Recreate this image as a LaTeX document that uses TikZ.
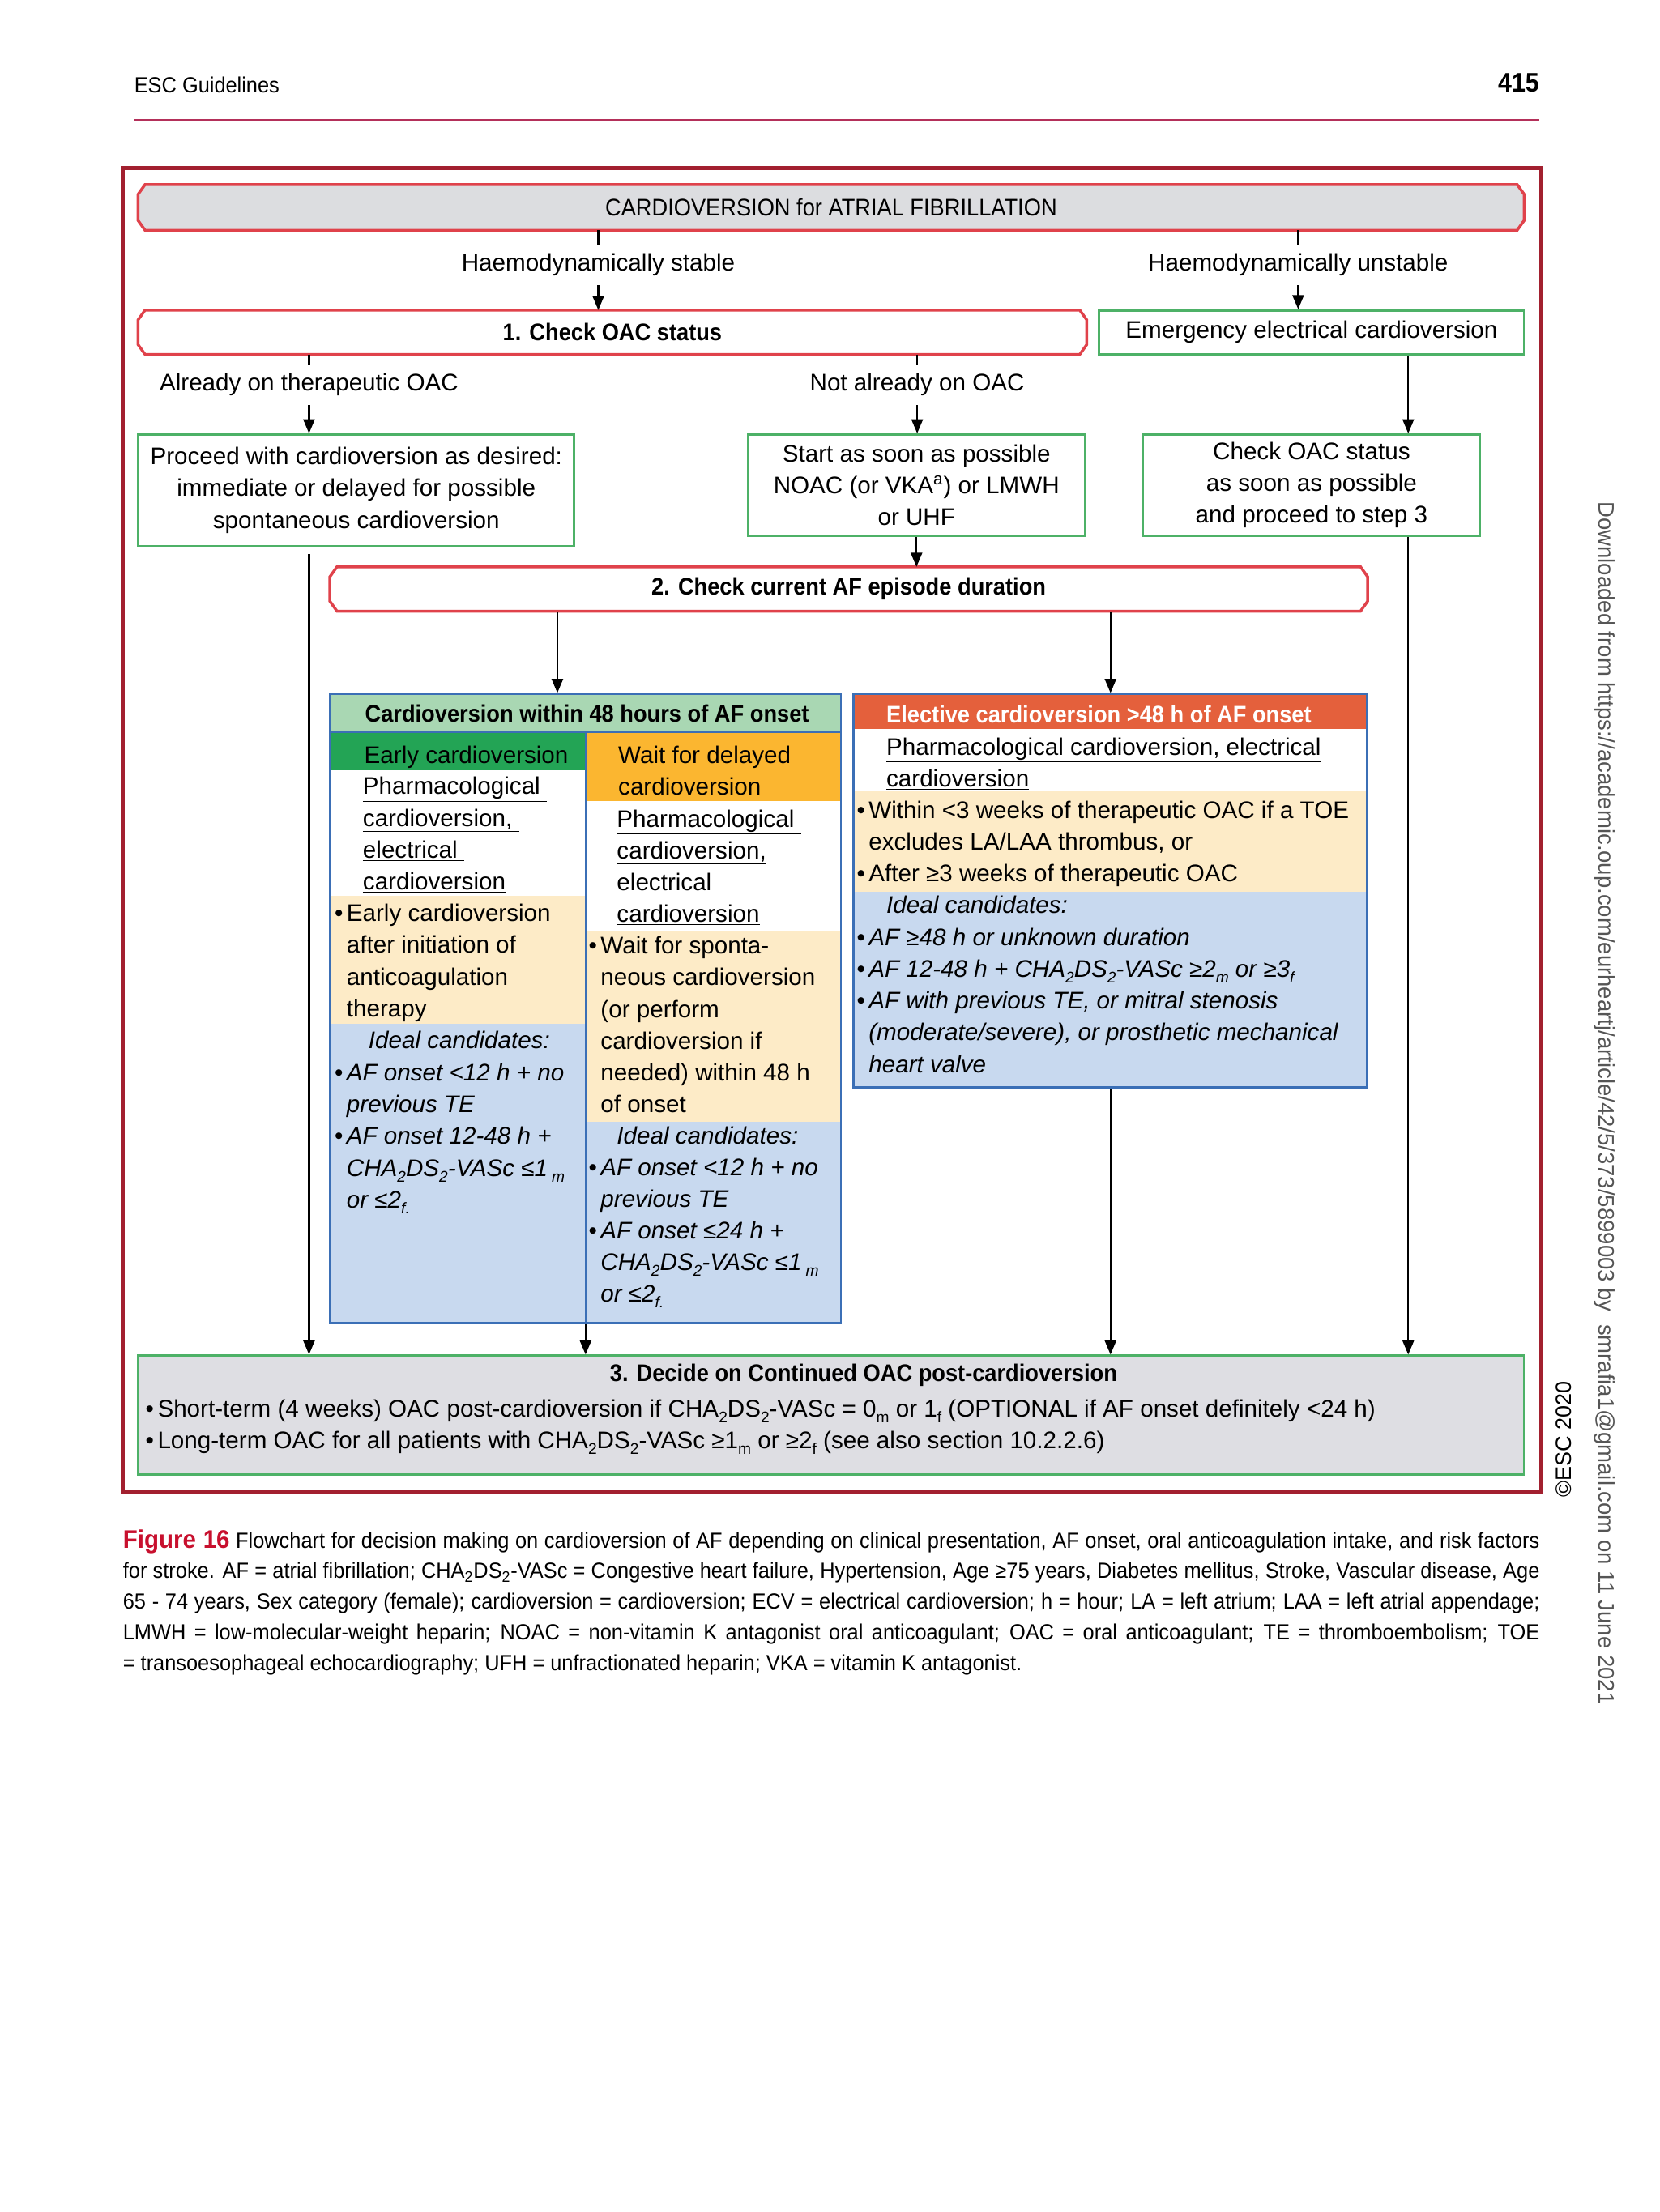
\documentclass[tikz,border=0pt]{standalone}
\usepackage{fontspec}
\setmainfont{Liberation Sans}
\newfontfamily\capfont{Liberation Sans}[FakeStretch=0.94]
\newfontfamily\narfont{Liberation Sans}[FakeStretch=0.92]
\usetikzlibrary{arrows.meta,calc}
\definecolor{frameRed}{HTML}{A2202F}
\definecolor{headRule}{HTML}{B4305A}
\definecolor{titleFill}{HTML}{DCDDE0}
\definecolor{boxRed}{HTML}{E0424B}
\definecolor{boxGreen}{HTML}{4DB167}
\definecolor{panelBlue}{HTML}{3B6FB6}
\definecolor{hdrGreen}{HTML}{A9D7B3}
\definecolor{earlyGreen}{HTML}{23A455}
\definecolor{waitOrange}{HTML}{FBB630}
\definecolor{lightOrange}{HTML}{FDEBC7}
\definecolor{lightBlue}{HTML}{C8D9EF}
\definecolor{electiveRed}{HTML}{E4603C}
\definecolor{boxThreeFill}{HTML}{DEDEE3}
\definecolor{capRed}{HTML}{C8102E}
\definecolor{sideGray}{HTML}{555555}
\pgfdeclarelayer{bg}
\pgfsetlayers{bg,main}
\newcommand\myfst{\rule{0pt}{16pt}}
\newcommand\mybul{\makebox[8.5pt][l]{\upshape •}}
\newcommand\myind{\hspace*{8.5pt}}
\newcommand\mysub[1]{\raisebox{-4pt}{\fontsize{11}{11}\selectfont #1}}
\newcommand\mycha{CHA\mysub{2}DS\mysub{2}-VASc}
\newcommand\chbox[2]{%
 \begin{pgfonlayer}{bg}
 \path[#2] ($(#1.north west)+(5,0)$) -- ($(#1.north east)+(-5,0)$) -- ($(#1.north east)+(0,7)$) -- ($(#1.south east)+(0,-7)$) -- ($(#1.south east)+(-5,0)$) -- ($(#1.south west)+(5,0)$) -- ($(#1.south west)+(0,-7)$) -- ($(#1.north west)+(0,7)$) -- cycle;
 \end{pgfonlayer}}
\tikzset{
 ln/.style={line width=1.4pt, black},
 arr/.style={ln, -{Triangle[length=10pt,width=8pt]}},
 lab/.style={font=\fontsize{17}{22.5}\selectfont, text height=12pt, text depth=4pt, inner xsep=2pt, inner ysep=6pt},
 bx/.style={inner sep=0pt, font=\fontsize{17}{22.5}\selectfont, align=center},
 bbx/.style={bx, font=\narfont\fontsize{17}{22.5}\selectfont\bfseries},
 gbox/.style={bx, draw=boxGreen, line width=1.6pt},
 blk/.style={anchor=north west, inner sep=0pt, align=left, font=\fontsize{17}{22.5}\selectfont},
 iblk/.style={blk, font=\fontsize{17}{22.5}\selectfont\itshape},
 bblk/.style={blk, font=\narfont\fontsize{17}{22.5}\selectfont\bfseries},
}
\begin{document}
\begin{tikzpicture}[x=1pt,y=-1pt]
\begin{pgfonlayer}{bg}
\fill[white] (0,0) rectangle (1176,1568);
\end{pgfonlayer}
\useasboundingbox (0,0) rectangle (1176,1568);

% page header
\node[anchor=base west, inner sep=0, font=\capfont\fontsize{15.5}{18}\selectfont] (hdrL) at (95,66) {ESC Guidelines};
\node[anchor=base east, inner sep=0, font=\narfont\fontsize{19}{22}\selectfont\bfseries] (hdrR) at (1091,65) {415};
\draw[headRule, line width=1.6pt] (95,85) -- (1091,85);

% frame
\node[draw=frameRed, line width=2.6pt, minimum width=1005pt, minimum height=939pt, inner sep=0] (frame) at (589.5,588.5) {};

% top level
\node[bx, font=\narfont\fontsize{17}{22.5}\selectfont, minimum width=982pt, minimum height=32pt] (T) at (589,147) {CARDIOVERSION for ATRIAL FIBRILLATION};
\chbox{T}{fill=titleFill, draw=boxRed, line width=2pt}
\node[lab] (S) at (424,188) {Haemodynamically stable};
\node[lab] (U) at (920,188) {Haemodynamically unstable};

\node[bbx, minimum width=672pt, minimum height=31pt] (B1) at (434,235.5) {1. Check OAC status};
\chbox{B1}{fill=white, draw=boxRed, line width=2pt}
\node[gbox, minimum width=301pt, minimum height=31pt] (E) at (929.5,235.5) {Emergency electrical cardioversion};

\node[lab] (A) at (219,273) {Already on therapeutic OAC};
\node[lab] (N) at (650,273) {Not already on OAC};

\node[gbox, minimum width=309pt, minimum height=79pt] (P) at (252.5,347.5) {Proceed with cardioversion as desired:\\immediate or delayed for possible\\spontaneous cardioversion};
\node[gbox, minimum width=239pt, minimum height=72pt] (St) at (649.5,344) {Start as soon as possible\\NOAC (or VKA\textsuperscript{a}) or LMWH\\or UHF};
\node[gbox, minimum width=239pt, minimum height=72pt] (C) at (929.5,344) {Check OAC status\\as soon as possible\\and proceed to step 3};

\node[bbx, minimum width=735pt, minimum height=31pt] (B2) at (601.5,417.5) {2. Check current AF episode duration};
\chbox{B2}{fill=white, draw=boxRed, line width=2pt}

% panel fills
\fill[hdrGreen] (234,492) rectangle (596,519);
\fill[earlyGreen] (234,519) rectangle (415,546);
\fill[lightOrange] (234,635) rectangle (415,726);
\fill[lightBlue] (234,726) rectangle (415,938);
\fill[waitOrange] (415,519) rectangle (596,568);
\fill[lightOrange] (415,660) rectangle (596,795);
\fill[lightBlue] (415,795) rectangle (596,938);
\fill[electiveRed] (605,492) rectangle (969,517);
\fill[lightOrange] (605,561) rectangle (969,632);
\fill[lightBlue] (605,632) rectangle (969,771);

\node[draw=panelBlue, line width=1.6pt, minimum width=362pt, minimum height=446pt, inner sep=0] (LP) at (415,715) {};
\node[draw=panelBlue, line width=1.6pt, minimum width=364pt, minimum height=279pt, inner sep=0] (RP) at (787,631.5) {};
\draw[panelBlue, line width=1.4pt] (234,519) -- (596,519);
\draw[panelBlue, line width=1.4pt] (415,519) -- (415,938);

% left panel texts
\node[bbx] (LPh) at (416,506) {Cardioversion within 48 hours of AF onset};
\node[blk] (l1) at (258,525) {\myfst Early cardioversion};
\node[blk] (l2) at (257,547) {\myfst\underline{Pharmacological~}\\\underline{cardioversion,~}\\\underline{electrical~}\\\underline{cardioversion}};
\node[blk] (l3) at (237,637) {\myfst\mybul Early cardioversion\\\myind after initiation of\\\myind anticoagulation\\\myind therapy};
\node[iblk] (l4) at (261,727) {\myfst Ideal candidates:};
\node[iblk] (l5) at (237,750) {\myfst\mybul AF onset <12 h + no\\\myind previous TE\\\mybul AF onset 12-48 h +\\\myind \mycha\ ≤1\,\mysub{m}\\\myind or ≤2\mysub{f.}};

\node[blk] (r1) at (438,525) {\myfst Wait for delayed\\cardioversion};
\node[blk] (r2) at (437,570) {\myfst\underline{Pharmacological~}\\\underline{cardioversion,}\\\underline{electrical~}\\\underline{cardioversion}};
\node[blk] (r3) at (417,660) {\myfst\mybul Wait for sponta-\\\myind neous cardioversion\\\myind (or perform\\\myind cardioversion if\\\myind needed) within 48 h\\\myind of onset};
\node[iblk] (r4) at (437,795) {\myfst Ideal candidates:};
\node[iblk] (r5) at (417,817) {\myfst\mybul AF onset <12 h + no\\\myind previous TE\\\mybul AF onset ≤24 h +\\\myind \mycha\ ≤1\,\mysub{m}\\\myind or ≤2\mysub{f.}};

% right panel texts
\node[bblk, text=white] (e1) at (628,496) {\myfst Elective cardioversion >48 h of AF onset};
\node[blk] (e2) at (628,519) {\myfst\underline{Pharmacological cardioversion, electrical}\\\underline{cardioversion}};
\node[blk] (e3) at (607,564) {\myfst\mybul Within <3 weeks of therapeutic OAC if a TOE\\\myind excludes LA/LAA thrombus, or\\\mybul After ≥3 weeks of therapeutic OAC};
\node[iblk] (e4) at (628,631) {\myfst Ideal candidates:};
\node[iblk] (e5) at (607,654) {\myfst\mybul AF ≥48 h or unknown duration\\\mybul AF 12-48 h + \mycha\ ≥2\mysub{m} or ≥3\mysub{f}\\\mybul AF with previous TE, or mitral stenosis\\\myind (moderate/severe), or prosthetic mechanical\\\myind heart valve};

% box 3
\node[draw=boxGreen, fill=boxThreeFill, line width=1.6pt, minimum width=982pt, minimum height=84pt, inner sep=0] (D) at (589,1003) {};
\node[bbx] (D1) at (612,975) {3. Decide on Continued OAC post-cardioversion};
\node[blk] (D2) at (103,988) {\myfst\mybul Short-term (4 weeks) OAC post-cardioversion if \mycha\ = 0\mysub{m} or 1\mysub{f} (OPTIONAL if AF onset definitely <24 h)\\\mybul Long-term OAC for all patients with \mycha\ ≥1\mysub{m} or ≥2\mysub{f} (see also section 10.2.2.6)};

% helper x positions
\coordinate (rx) at (998,0);
\coordinate (lx) at (395,0);
\coordinate (mx) at (787,0);
\coordinate (dx) at (415,0);

% connectors
\draw[ln] (T.south -| S.north) -- (S.north);
\draw[arr] (S.south) -- (S.south |- B1.north);
\draw[ln] (T.south -| U.north) -- (U.north);
\draw[arr] (U.south) -- (U.south |- E.north);
\draw[ln] (B1.south -| A.north) -- (A.north);
\draw[arr] (A.south) -- (A.south |- P.north);
\draw[ln] (B1.south -| N.north) -- (N.north);
\draw[arr] (N.south) -- (N.south |- St.north);
\draw[arr] (E.south -| rx) -- (C.north -| rx);
\draw[arr] (St.south) -- (St.south |- B2.north);
\draw[arr] (B2.south -| lx) -- (LP.north -| lx);
\draw[arr] (B2.south -| mx) -- (RP.north -| mx);
\draw[arr, shorten <=5pt] (P.south -| A.south) -- (D.north -| A.south);
\draw[arr] (C.south -| rx) -- (D.north -| rx);
\draw[arr] (LP.south -| dx) -- (D.north -| dx);
\draw[arr] (RP.south -| mx) -- (D.north -| mx);

% side texts
\node[rotate=90, inner sep=0, font=\fontsize{15.5}{18}\selectfont] (esc) at (1108,1020) {©ESC 2020};
\node[rotate=-90, inner sep=0, text=sideGray, font=\fontsize{15.8}{18}\selectfont] (dl) at (1137,782) {Downloaded from https://academic.oup.com/eurheartj/article/42/5/373/5899003 by\ \ smrafia1@gmail.com on 11 June 2021};

% caption
\node[anchor=north west, inner sep=0, text width=1004pt, align=justify, font=\capfont\fontsize{15.5}{21.7}\selectfont] (cap) at (87,1081) {\myfst{\color{capRed}\bfseries\fontsize{18}{21.7}\selectfont Figure 16}\ Flowchart for decision making on cardioversion of AF depending on clinical presentation, AF onset, oral anticoagulation intake, and risk factors\linebreak for stroke. AF = atrial fibrillation; CHA\textsubscript{2}DS\textsubscript{2}-VASc = Congestive heart failure, Hypertension, Age ≥75 years, Diabetes mellitus, Stroke, Vascular disease, Age\linebreak 65 - 74 years, Sex category (female); cardioversion = cardioversion; ECV = electrical cardioversion; h = hour; LA = left atrium; LAA = left atrial appendage;\linebreak LMWH = low-molecular-weight heparin; NOAC = non-vitamin K antagonist oral anticoagulant; OAC = oral anticoagulant; TE = thromboembolism; TOE\linebreak = transoesophageal echocardiography; UFH = unfractionated heparin; VKA = vitamin K antagonist.};
\end{tikzpicture}
\end{document}
